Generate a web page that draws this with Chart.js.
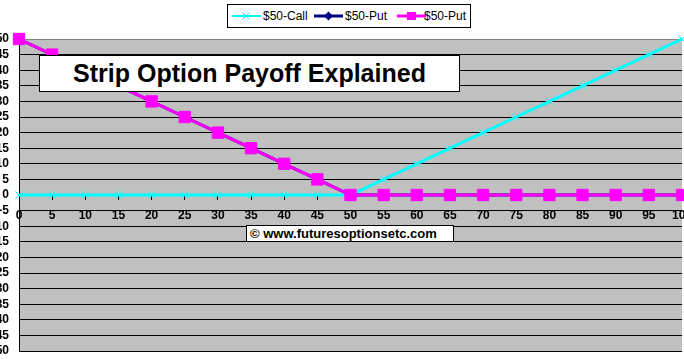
<!DOCTYPE html>
<html><head><meta charset="utf-8">
<script src="https://cdn.jsdelivr.net/npm/chart.js@4/dist/chart.umd.min.js"></script>
<style>
html,body{margin:0;padding:0;background:#fff;}
#wrap{position:relative;width:684px;height:359px;overflow:hidden;font-family:Arial,"Liberation Sans",sans-serif;color:#000;}
canvas{position:absolute;left:0;top:0;}
.box{position:absolute;background:#fff;border:1px solid #000;box-sizing:border-box;white-space:nowrap;}
.li{position:absolute;top:0;height:22px;line-height:22px;font-size:12px;}
.ic{position:absolute;top:6px;}
</style></head><body>
<div id="wrap">
<canvas id="c" width="684" height="359"></canvas>
<div id="legend" class="box" style="left:227px;top:4px;width:244px;height:24px;"></div>
<div id="title" class="box" style="left:39px;top:55px;width:421px;height:37px;font-weight:bold;font-size:25px;line-height:35px;text-align:center;"></div>
<div id="copy" class="box" style="left:246px;top:225px;width:208px;height:17px;font-weight:bold;font-size:13px;line-height:15px;padding-left:3px;"></div>
</div>
<script>
// ---- data ----
const strikes = ['0','5','10','15','20','25','30','35','40','45','50','55','60','65','70','75','80','85','90','95','100'];
const callPayoff = [0,0,0,0,0,0,0,0,0,0,0,5,10,15,20,25,30,35,40,45,50];
const putPayoff  = [50,45,40,35,30,25,20,15,10,5,0,0,0,0,0,0,0,0,0,0,0];
const put2Payoff = [50,45,40,35,30,25,20,15,10,5,0,0,0,0,0,0,0,0,0,0,0];
const seriesNames = ['$50-Call','$50-Put','$50-Put'];
const chartTitle = 'Strip Option Payoff Explained';
const copyrightText = '\u00A9 www.futuresoptionsetc.com';
const yMin = -50, yMax = 50, yStep = 5;

document.getElementById('title').textContent = chartTitle;
document.getElementById('copy').textContent = copyrightText;

// legend (HTML)
const lg = document.getElementById('legend');
const icons = [
  '<svg class="ic" width="29" height="10"><line x1="0" y1="5" x2="29" y2="5" stroke="#00FFFF" stroke-width="2"/><path d="M10.5 1.5 L17.5 8.5 M17.5 1.5 L10.5 8.5" stroke="#00FFFF" stroke-width="1"/></svg>',
  '<svg class="ic" width="29" height="10"><line x1="0" y1="5" x2="29" y2="5" stroke="#000080" stroke-width="3"/><path d="M14.5 0.5 L19 5 L14.5 9.5 L10 5 Z" fill="#000080"/></svg>',
  '<svg class="ic" width="29" height="10"><line x1="0" y1="5" x2="29" y2="5" stroke="#FF00FF" stroke-width="3"/><rect x="10" y="1" width="9" height="8" fill="#FF00FF"/></svg>'
];
const iconX = [4, 86, 169];
const textX = [35, 117, 196];
seriesNames.forEach((n,i)=>{
  const ic = document.createElement('div'); ic.style.position='absolute'; ic.style.left=iconX[i]+'px'; ic.style.top='0'; ic.innerHTML=icons[i]; lg.appendChild(ic);
  const t = document.createElement('div'); t.className='li'; t.style.left=textX[i]+'px'; t.textContent=n; lg.appendChild(t);
});

const bgPlugin = {
  id:'bg',
  beforeDraw(chart){
    const {ctx, chartArea:a} = chart;
    ctx.save(); ctx.fillStyle='#C0C0C0';
    ctx.fillRect(a.left, a.top, a.right-a.left, a.bottom-a.top);
    ctx.restore();
  }
};

const tickFont = {family:'Arial, "Liberation Sans", sans-serif', size:12, weight:'bold'};

new Chart(document.getElementById('c'), {
  type:'line',
  data:{
    labels: strikes,
    datasets:[
      {label:seriesNames[0], data:callPayoff, borderColor:'#00FFFF', backgroundColor:'#00FFFF', borderWidth:3,
       pointStyle:'crossRot', pointRadius:5, pointBorderWidth:1, pointBorderColor:'#00FFFF', tension:0, clip:false, order:3},
      {label:seriesNames[1], data:putPayoff, borderColor:'#000080', backgroundColor:'#000080', borderWidth:3,
       pointStyle:'rectRot', pointRadius:4, pointBorderWidth:1, tension:0, clip:false, order:2},
      {label:seriesNames[2], data:put2Payoff, borderColor:'#FF00FF', backgroundColor:'#FF00FF', borderWidth:3,
       pointStyle:'rect', pointRadius:8, pointBorderWidth:1, pointBorderColor:'#FF00FF', tension:0, clip:false, order:1}
    ]
  },
  options:{
    responsive:false, animation:false, devicePixelRatio:1,
    layout:{autoPadding:false, padding:{top:39,right:2,bottom:8,left:0}},
    plugins:{legend:{display:false}, tooltip:{enabled:false}, title:{display:false}},
    scales:{
      x:{
        type:'category', position:{y:0}, offset:false,
        grid:{drawOnChartArea:false, drawTicks:true, tickLength:4, color:'#000'},
        border:{display:true, color:'#000', width:1},
        ticks:{autoSkip:false, maxRotation:0, minRotation:0, padding:9, color:'#000', font:tickFont},
        afterFit(s){ s.paddingLeft=0; s.paddingRight=0; }
      },
      y:{
        min:yMin, max:yMax,
        ticks:{stepSize:yStep, autoSkip:false, padding:10, color:'#000', font:tickFont},
        grid:{drawTicks:false, lineWidth:1, color:(c)=> (c.tick && c.tick.value===yMax) ? '#808080' : '#000'},
        border:{display:true, color:'#000', width:1},
        afterFit(s){ s.width=19; s.paddingTop=0; s.paddingBottom=0; }
      }
    }
  },
  plugins:[bgPlugin]
});
</script>
</body></html>
